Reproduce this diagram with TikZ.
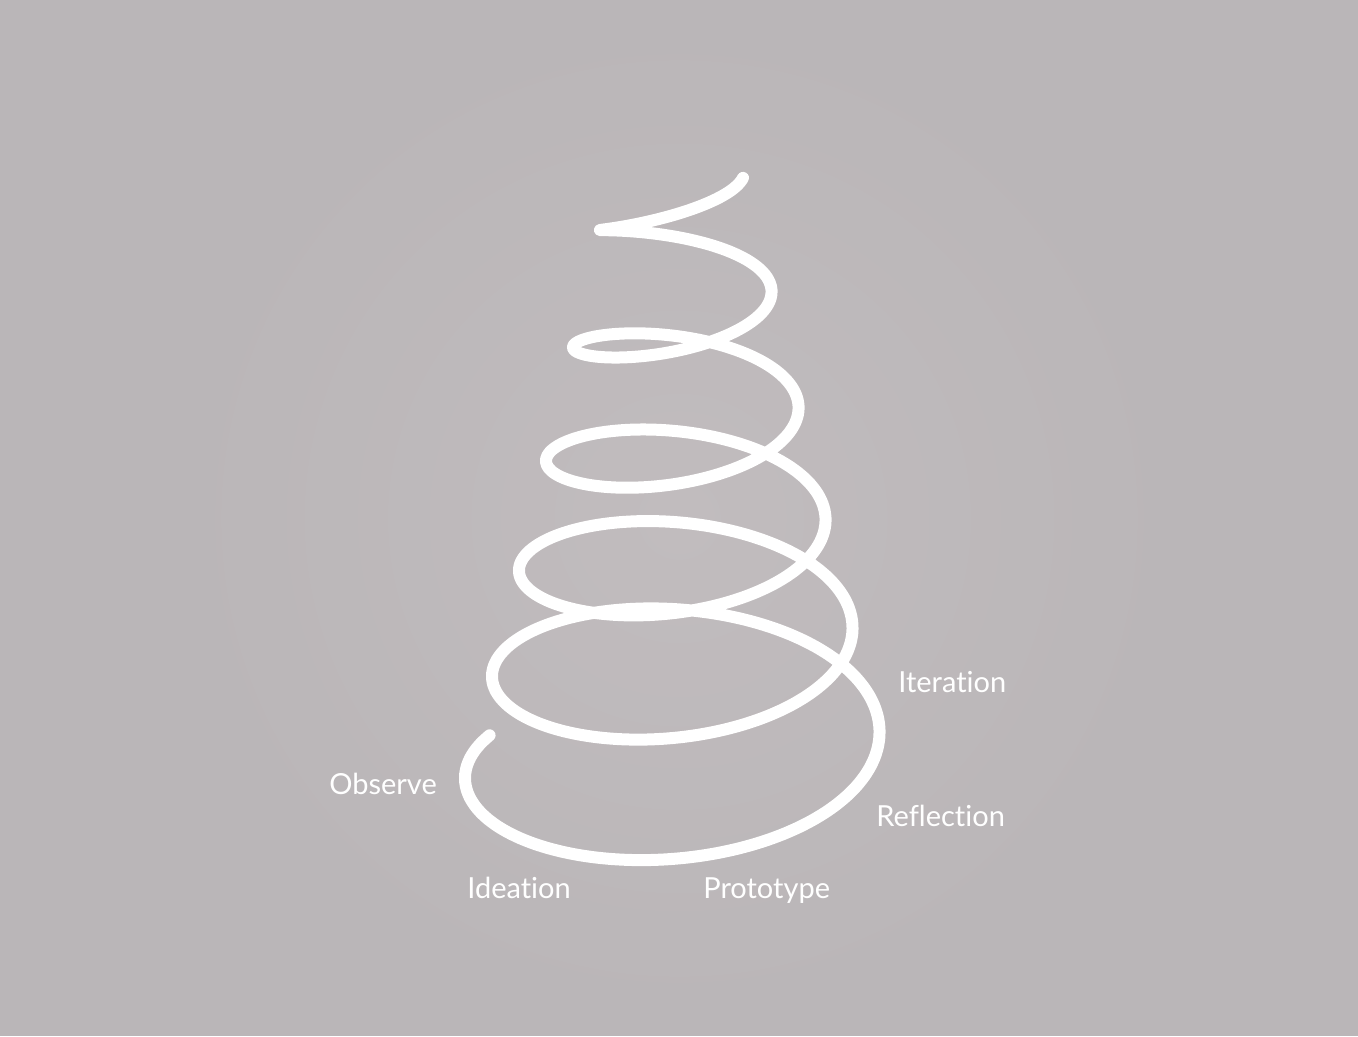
\documentclass[tikz,border=0pt]{standalone}
\usepackage{fontspec}
\setmainfont{Lato}[Ligatures=NoCommon]
\usetikzlibrary{calc}
\definecolor{grau}{RGB}{186,182,184}
\definecolor{grau-heller}{RGB}{193,188,190}
\colorlet{spirale}{white}

\begin{document}
\begin{tikzpicture}[x=0.02cm, y=-0.02cm, spirale]

    \useasboundingbox (0,0) rectangle (1358,1036);
    \fill[grau] (0,0) rectangle (1358,1036);
    \shade[inner color=grau-heller, outer color=grau] (679,518) circle (10cm);

    % spirale von unten (observe) nach oben
    \draw[line width=0.24cm, line cap=round, line join=round, domain=-0.08:5.46, samples=400, smooth, variable=\t]
        plot ({679+(214-27*\t)*cos(180-360*\t)}, {780-100*\t-2*\t*\t+(108-18*\t)*sin(180-360*\t)});

    \tikzset{label-text/.style={font=\fontsize{16.5}{20}\selectfont, anchor=base west, inner sep=0pt}}
    \node[label-text] (iteration) at (898,692) {Iteration};
    \node[label-text] (observe) at (329,794) {Observe};
    \node[label-text] (reflection) at (876,826) {Reflection};
    \node[label-text] (ideation) at (467,898) {Ideation};
    \node[label-text] (prototype) at (703,898) {Prototype};

\end{tikzpicture}
\end{document}
